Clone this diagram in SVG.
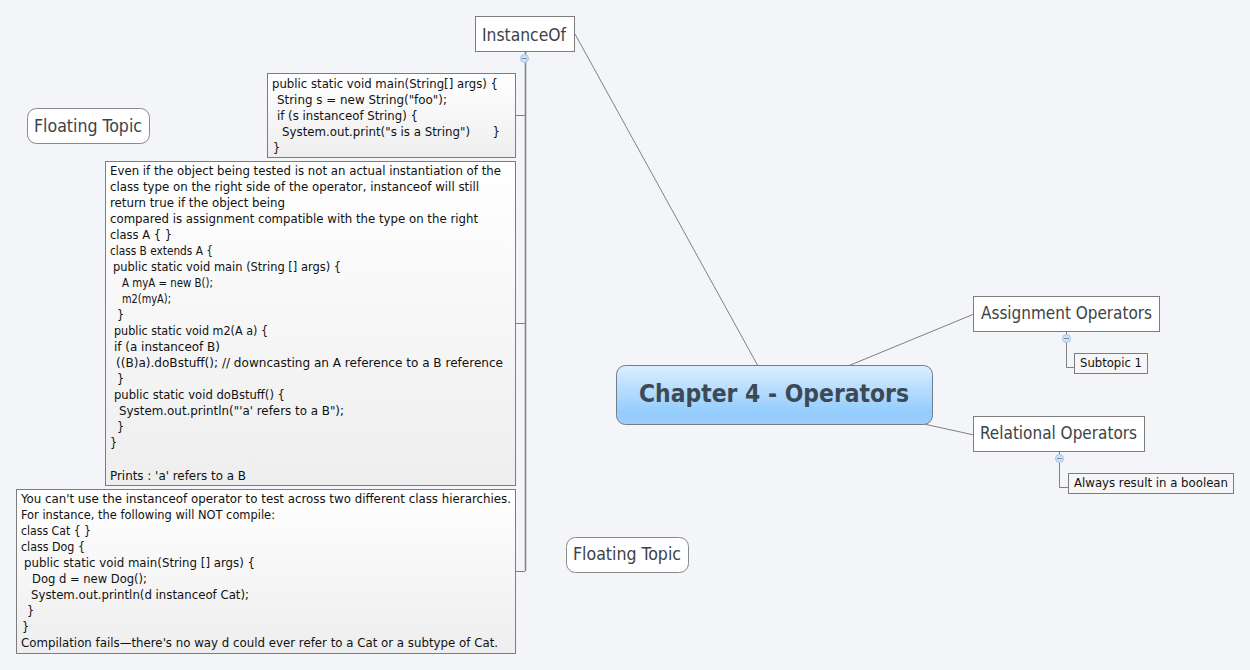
<svg xmlns="http://www.w3.org/2000/svg" width="1250" height="670" viewBox="0 0 1250 670">
<style>
text{font-family:"DejaVu Sans Condensed","Noto Sans",sans-serif;white-space:pre}
.n{font-size:12.5px;fill:#111}
.s{font-size:12.5px;fill:#111}
.t{font-size:17px;fill:#3c4248}
.box{fill:url(#g);stroke:#7d7d7d;stroke-width:1}
.tb{fill:#fff;stroke:#7d7d7d;stroke-width:1}
.fl{fill:#fff;stroke:#8a8a8a;stroke-width:1}
.c{fill:none;stroke:#808080;stroke-width:1}
.m{fill:#cfe0f4;stroke:#a8c4e4;stroke-width:1}
.mm{stroke:#6f8fb5;stroke-width:1}
</style>
<defs>
<linearGradient id="g" x1="0" y1="0" x2="0" y2="1"><stop offset="0" stop-color="#fff"/><stop offset="1" stop-color="#eeeeee"/></linearGradient>
<linearGradient id="b" x1="0" y1="0" x2="0" y2="1"><stop offset="0" stop-color="#dceeff"/><stop offset="0.8" stop-color="#93ccfd"/><stop offset="1" stop-color="#9dcffa"/></linearGradient>
</defs>
<rect width="1250" height="670" fill="#f3f5f9"/>
<g id="connectors">
<line class="c" x1="575" y1="34" x2="758" y2="366"/>
<line class="c" x1="848" y1="366" x2="974" y2="314"/>
<line class="c" x1="924" y1="424" x2="974" y2="435"/>
<path class="c" style="stroke-width:1.5" d="M525.500 52V571"/>
<path class="c" d="M516 115.500H525M516 323.500H525M516 571.500H525"/>
<path class="c" d="M1066.500 332V367.500H1074"/>
<path class="c" d="M1059.500 452V487.500H1069"/>
<circle class="m" cx="524.500" cy="58.500" r="4"/><line class="mm" x1="522" y1="58.500" x2="527" y2="58.500"/>
<circle class="m" cx="1066.500" cy="338.500" r="4"/><line class="mm" x1="1064" y1="338.500" x2="1069" y2="338.500"/>
<circle class="m" cx="1059.500" cy="458.500" r="4"/><line class="mm" x1="1057" y1="458.500" x2="1062" y2="458.500"/>
</g>
<g id="central">
<rect x="616.500" y="365.500" width="316" height="59" rx="9" fill="url(#b)" stroke="#6f7f8c"/>
<text x="774" y="402" text-anchor="middle" textLength="270" lengthAdjust="spacingAndGlyphs" style="font-size:25px;font-weight:700;font-family:'DejaVu Sans Condensed','Noto Sans',sans-serif;fill:#3c4a55">Chapter 4 - Operators</text>
</g>
<g id="instanceof">
<rect class="tb" x="475.500" y="16.500" width="99" height="35"/>
<text class="t" x="482" y="41" textLength="84" lengthAdjust="spacingAndGlyphs">InstanceOf</text>
</g>
<g id="assignment">
<rect class="tb" x="973.500" y="296.500" width="186" height="35"/>
<text class="t" x="981" y="319" textLength="171" lengthAdjust="spacingAndGlyphs">Assignment Operators</text>
</g>
<g id="relational">
<rect class="tb" x="973.500" y="416.500" width="171" height="35"/>
<text class="t" x="980" y="439" textLength="157" lengthAdjust="spacingAndGlyphs">Relational Operators</text>
</g>
<g id="subtopic1">
<rect x="1074.500" y="353.500" width="73" height="20" fill="#f6f6f6" stroke="#7d7d7d"/>
<text class="s" x="1080" y="367" textLength="62" lengthAdjust="spacingAndGlyphs">Subtopic 1</text>
</g>
<g id="boolean">
<rect x="1068.500" y="473.500" width="165" height="20" fill="#f6f6f6" stroke="#7d7d7d"/>
<text class="s" x="1074" y="487" textLength="154" lengthAdjust="spacingAndGlyphs">Always result in a boolean</text>
</g>
<g id="floating1">
<rect class="fl" x="27.500" y="108.500" width="122" height="35" rx="9"/>
<text class="t" x="34" y="132" textLength="108" lengthAdjust="spacingAndGlyphs">Floating Topic</text>
</g>
<g id="floating2">
<rect class="fl" x="566.500" y="537.500" width="122" height="35" rx="9"/>
<text class="t" x="573" y="560" textLength="108" lengthAdjust="spacingAndGlyphs">Floating Topic</text>
</g>
<g id="note1">
<rect class="box" x="267.500" y="73.500" width="248" height="84"/>
<text class="n" x="272" y="88" textLength="226" lengthAdjust="spacingAndGlyphs">public static void main(String[] args) {</text>
<text class="n" x="277" y="104" textLength="170" lengthAdjust="spacingAndGlyphs">String s = new String("foo");</text>
<text class="n" x="277" y="120" textLength="141" lengthAdjust="spacingAndGlyphs">if (s instanceof String) {</text>
<text class="n" x="282" y="136" textLength="218" lengthAdjust="spacingAndGlyphs">System.out.print("s is a String")      }</text>
<text class="n" x="273" y="152">}</text>
</g>
<g id="note2">
<rect class="box" x="105.500" y="161.500" width="410" height="324"/>
<text class="n" x="110" y="175" textLength="391" lengthAdjust="spacingAndGlyphs">Even if the object being tested is not an actual instantiation of the</text>
<text class="n" x="110" y="191" textLength="369" lengthAdjust="spacingAndGlyphs">class type on the right side of the operator, instanceof will still</text>
<text class="n" x="110" y="207" textLength="175" lengthAdjust="spacingAndGlyphs">return true if the object being</text>
<text class="n" x="110" y="223" textLength="368" lengthAdjust="spacingAndGlyphs">compared is assignment compatible with the type on the right</text>
<text class="n" x="110" y="239" textLength="62" lengthAdjust="spacingAndGlyphs">class A { }</text>
<text class="n" x="110" y="255" textLength="103" lengthAdjust="spacingAndGlyphs">class B extends A {</text>
<text class="n" x="113" y="271" textLength="228" lengthAdjust="spacingAndGlyphs">public static void main (String [] args) {</text>
<text class="n" x="122" y="287" textLength="91" lengthAdjust="spacingAndGlyphs">A myA = new B();</text>
<text class="n" x="122" y="303" textLength="49" lengthAdjust="spacingAndGlyphs">m2(myA);</text>
<text class="n" x="117" y="319">}</text>
<text class="n" x="114" y="335" textLength="154" lengthAdjust="spacingAndGlyphs">public static void m2(A a) {</text>
<text class="n" x="114" y="351" textLength="106" lengthAdjust="spacingAndGlyphs">if (a instanceof B)</text>
<text class="n" x="116" y="367" textLength="387" lengthAdjust="spacingAndGlyphs">((B)a).doBstuff(); // downcasting an A reference to a B reference</text>
<text class="n" x="117" y="383">}</text>
<text class="n" x="114" y="399" textLength="171" lengthAdjust="spacingAndGlyphs">public static void doBstuff() {</text>
<text class="n" x="119" y="415" textLength="225" lengthAdjust="spacingAndGlyphs">System.out.println("'a' refers to a B");</text>
<text class="n" x="117" y="431">}</text>
<text class="n" x="110" y="447">}</text>
<text class="n" x="110" y="480" textLength="136" lengthAdjust="spacingAndGlyphs">Prints : 'a' refers to a B</text>
</g>
<g id="note3">
<rect class="box" x="16.500" y="489.500" width="499" height="164"/>
<text class="n" x="21" y="503" textLength="490" lengthAdjust="spacingAndGlyphs">You can't use the instanceof operator to test across two different class hierarchies.</text>
<text class="n" x="21" y="519" textLength="254" lengthAdjust="spacingAndGlyphs">For instance, the following will NOT compile:</text>
<text class="n" x="21" y="535" textLength="70" lengthAdjust="spacingAndGlyphs">class Cat { }</text>
<text class="n" x="21" y="551" textLength="64" lengthAdjust="spacingAndGlyphs">class Dog {</text>
<text class="n" x="24" y="567" textLength="231" lengthAdjust="spacingAndGlyphs">public static void main(String [] args) {</text>
<text class="n" x="32" y="583" textLength="115" lengthAdjust="spacingAndGlyphs">Dog d = new Dog();</text>
<text class="n" x="31" y="599" textLength="218" lengthAdjust="spacingAndGlyphs">System.out.println(d instanceof Cat);</text>
<text class="n" x="27" y="615">}</text>
<text class="n" x="22" y="631">}</text>
<text class="n" x="21" y="647" textLength="477" lengthAdjust="spacingAndGlyphs">Compilation fails—there's no way d could ever refer to a Cat or a subtype of Cat.</text>
</g>
</svg>
